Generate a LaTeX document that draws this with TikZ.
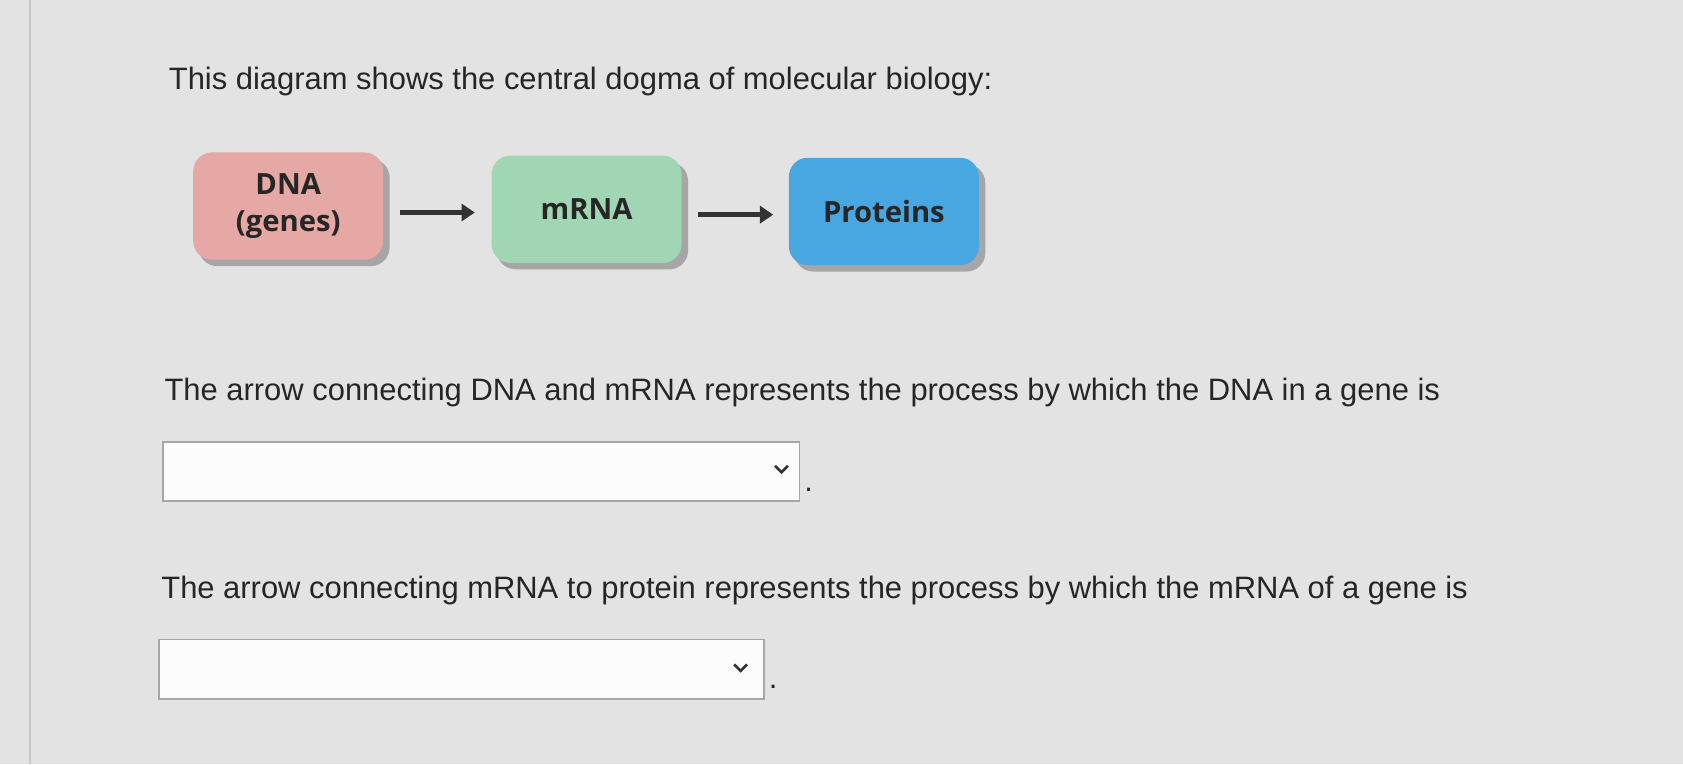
\documentclass[tikz,border=0pt]{standalone}
\usepackage{fontspec}
\setmainfont{Liberation Sans}
\newfontfamily\boxfont{Open Sans}
\usetikzlibrary{arrows.meta}
\begin{document}
\begin{tikzpicture}[x=0.02cm,y=-0.02cm,
  txt/.style={anchor=west,inner sep=0,font=\fontsize{16.4}{19}\selectfont,text=black!85},
  dbox/.style={draw=black!35,fill=white!90!gray!20,line width=0.8pt},
  cbox/.style={rounded corners=0.35cm,minimum width=3.54cm,minimum height=2cm,align=center,
    font=\boxfont\bfseries\fontsize{15.5}{20}\selectfont,text=black!85},
  shadowbox/.style={fill=black!35,rounded corners=0.35cm},
  arr/.style={line width=2.4pt,draw=black!80,-{Triangle[length=7pt,width=9pt]}}]
\useasboundingbox (0,0) rectangle (1568,712);
\fill[gray!22] (0,0) rectangle (1568,712);
\draw[gray!45,line width=1pt] (28,0) -- (28,712);
\node[txt] (title) at (157,76) {This diagram shows the central dogma of molecular biology:};
\fill[shadowbox] (185,148) rectangle (363,248);
\fill[shadowbox] (463,151) rectangle (641,251);
\fill[shadowbox] (740,153) rectangle (918,253);
\node[cbox,fill={rgb,255:red,229;green,168;blue,164}] (dna) at (268.5,192) {DNA\\(genes)};
\node[cbox,fill={rgb,255:red,160;green,214;blue,180}] (mrna) at (546.5,195) {mRNA};
\node[cbox,fill={rgb,255:red,72;green,166;blue,224}] (prot) at (823.5,197) {Proteins};
\draw[arr] (dna.east)+(15,6) coordinate (a1) -- ++(85,6) coordinate (a2);
\draw[arr] (mrna.east)+(15,5) coordinate (b1) -- ++(85,5) coordinate (b2);
\node[txt] (q1) at (153,366) {The arrow connecting DNA and mRNA represents the process by which the DNA in a gene is};
\draw[dbox] (152,412) rectangle (745,467);
\draw[line width=1.4pt,black!80] (722,434) -- (728,440) -- (734,434);
\node[txt] (p1) at (749,456) {.};
\node[txt] (q2) at (150,550) {The arrow connecting mRNA to protein represents the process by which the mRNA of a gene is};
\draw[dbox] (148,596) rectangle (712,651);
\draw[line width=1.4pt,black!80] (684,619) -- (690,625) -- (696,619);
\node[txt] (p2) at (716,640) {.};
\end{tikzpicture}
\end{document}
